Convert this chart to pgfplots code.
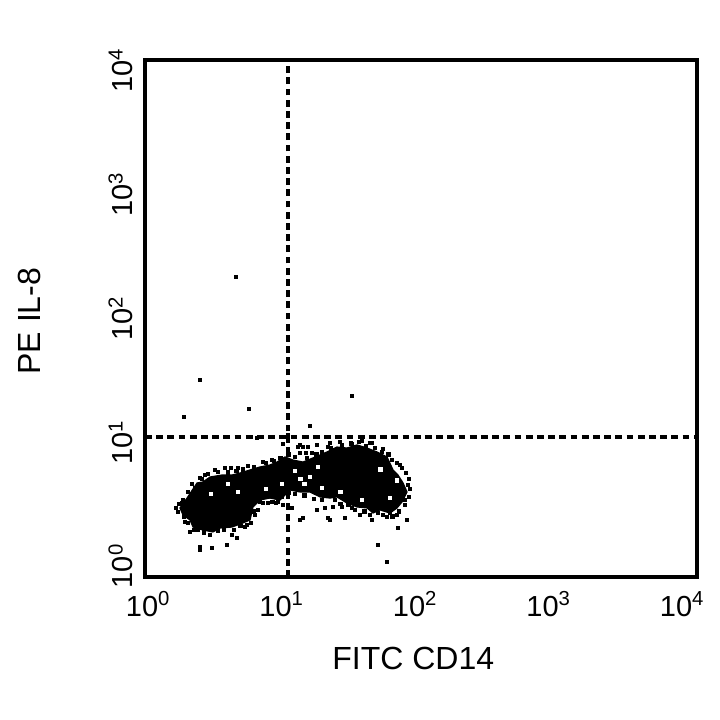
\documentclass[border=0pt]{standalone}
\usepackage{pgfplots}
\pgfplotsset{compat=1.18}
\usepackage{fontspec}
\setmainfont{Liberation Sans}

% x, y in decades (log10 of the intensity)
\begin{document}
\begin{tikzpicture}
\begin{axis}[
  at={(0,0)}, anchor=south west,
  scale only axis, width=276pt, height=258.5pt,
  xmin=-0.024, xmax=4.111, ymin=-0.0897, ymax=4.086,
  axis line style={line width=1.6pt},
  xtick={0,1,2,3,4}, ytick={0,1,2,3,4},
  xticklabels={10\textsuperscript{0},10\textsuperscript{1},10\textsuperscript{2},10\textsuperscript{3},10\textsuperscript{4}},
  yticklabels={10\textsuperscript{0},10\textsuperscript{1},10\textsuperscript{2},10\textsuperscript{3},10\textsuperscript{4}},
  major tick length=0pt,
  tick label style={font=\fontsize{14.5}{17}\selectfont},
  xticklabel style={anchor=base, yshift=-19.5pt},
  yticklabel style={xshift=-6pt, rotate=90, anchor=base},
  xlabel={FITC CD14}, ylabel={PE IL-8},
  label style={font=\fontsize{16}{19}\selectfont},
  xlabel style={at={(axis description cs:0.486,-0.178)}, anchor=base},
  ylabel style={at={(axis description cs:-0.190,0.495)}, rotate=0, anchor=base},
  clip=false,
]
% dense core of the population
\addplot[fill=black, draw=black, line width=0.6pt] coordinates {
(0.238,0.468) (0.291,0.548) (0.366,0.670) (0.410,0.678) (0.463,0.718)
(0.553,0.734) (0.628,0.734) (0.688,0.750) (0.763,0.775) (0.837,0.799)
(0.912,0.815) (0.965,0.839) (1.025,0.880) (1.085,0.855) (1.160,0.839)
(1.234,0.872) (1.339,0.920) (1.414,0.960) (1.489,0.952) (1.564,0.977)
(1.639,0.952) (1.714,0.920) (1.789,0.880) (1.834,0.775) (1.871,0.734)
(1.909,0.670) (1.939,0.597) (1.901,0.516) (1.864,0.468) (1.811,0.427)
(1.736,0.452) (1.684,0.427) (1.639,0.468) (1.564,0.476) (1.489,0.508)
(1.414,0.557) (1.362,0.548) (1.287,0.557) (1.212,0.597) (1.137,0.597)
(1.062,0.613) (0.987,0.532) (0.912,0.548) (0.837,0.532) (0.785,0.476)
(0.763,0.371) (0.710,0.347) (0.628,0.314) (0.538,0.306) (0.485,0.274)
(0.410,0.290) (0.336,0.314) (0.313,0.371) (0.261,0.411)
} -- cycle;
% gaps inside the core
\addplot[only marks, mark=square*, mark size=0.8pt, white] coordinates {
(1.14,0.70) (1.17,0.66) (1.21,0.72) (1.10,0.77) (1.30,0.63) (1.86,0.69)
(1.81,0.55) (0.67,0.60) (0.88,0.62) (1.60,0.53) (1.44,0.60) (1.00,0.66)
(0.47,0.58) (0.60,0.66) (1.74,0.78) (1.27,0.80)
};
% single events
\addplot[only marks, mark=square*, mark size=0.8pt, black] coordinates {
(0.658,2.334) (0.388,1.502) (0.268,1.203) (0.755,1.267) (1.526,1.372)
(1.212,1.130) (0.815,1.033) (1.047,1.057) (1.722,0.169) (1.789,0.032)
(1.871,0.306) (0.388,0.153) (0.388,0.128) (0.478,0.145) (0.590,0.169)
(0.665,0.226) (0.628,0.250) (0.313,0.274) (0.373,0.290)
(0.575,0.791) (0.620,0.791) (0.673,0.791)
(1.124,0.960) (1.161,0.960) (1.199,0.960) (1.137,0.912) (1.184,0.912)
(1.229,0.912) (1.348,0.960) (1.661,0.993) (1.010,0.985) (1.137,0.977)
(1.264,0.977) (1.362,0.993) (1.676,0.991)
(1.160,0.387) (1.264,0.452) (1.324,0.468) (1.384,0.476) (1.452,0.476)
(1.526,0.468) (1.362,0.371) (1.676,0.371) (1.789,0.395) (1.939,0.371)
(1.864,0.411) (1.587,0.411) (1.474,0.387) (1.137,0.371) (1.079,0.468)
(1.347,0.387) (1.811,0.427)
(0.253,0.508) (0.223,0.435) (0.275,0.355) (0.351,0.629) (0.388,0.710)
(0.425,0.734) (0.500,0.775) (0.748,0.807) (0.860,0.839) (0.927,0.855)
(0.725,0.314) (0.800,0.411) (0.823,0.452) (0.898,0.508) (0.958,0.508)
(1.010,0.492) (0.972,0.516) (0.837,0.516)
(1.436,1.001) (1.526,0.985) (1.601,1.009) (1.758,0.944) (1.825,0.855)
(1.886,0.815) (1.924,0.532) (1.946,0.653)
(0.30,0.60) (0.33,0.66) (0.40,0.70) (0.45,0.745) (0.52,0.76) (0.60,0.755)
(0.66,0.77) (0.71,0.78) (0.79,0.80) (0.88,0.83) (0.94,0.85) (0.99,0.87)
(0.27,0.40) (0.30,0.35) (0.34,0.29) (0.42,0.27) (0.46,0.25) (0.52,0.28)
(0.57,0.29) (0.64,0.29) (0.69,0.32) (0.74,0.33) (0.77,0.35) (0.79,0.44)
(0.21,0.47) (0.23,0.50) (0.26,0.53)
(0.86,0.51) (0.93,0.52) (1.00,0.56) (1.05,0.59) (1.10,0.58) (1.17,0.57)
(1.24,0.54) (1.30,0.53)
(1.40,0.53) (1.44,0.50) (1.50,0.49) (1.55,0.45) (1.62,0.44) (1.66,0.41)
(1.72,0.43) (1.76,0.41) (1.83,0.40) (1.88,0.44) (1.92,0.49) (1.95,0.56)
(1.96,0.62) (1.95,0.70) (1.93,0.75) (1.90,0.79) (1.86,0.83)
(1.30,0.92) (1.37,0.95) (1.45,0.98) (1.52,0.99) (1.58,1.00) (1.63,0.97)
(1.70,0.95) (1.75,0.92) (1.80,0.90)
(1.05,0.90) (1.10,0.88) (1.19,0.87) (1.26,0.90)
};
% quadrant markers
\addplot[black, line width=1.9pt, dash pattern=on 3.4pt off 2.2pt] coordinates {(1.047,-0.0897) (1.047,4.086)};
\addplot[black, line width=1.9pt, dash pattern=on 3.4pt off 2.2pt] coordinates {(-0.024,1.041) (4.111,1.041)};
\end{axis}
\pgfresetboundingbox
\path[use as bounding box] (-72.5pt,-71.5pt) rectangle (287.5pt,288.5pt);
\end{tikzpicture}
\end{document}
